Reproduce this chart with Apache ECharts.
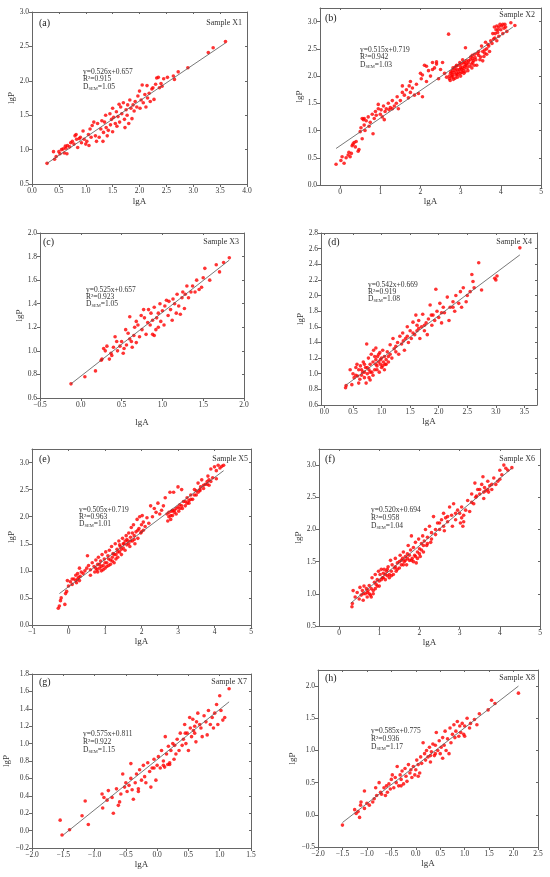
<!DOCTYPE html>
<html><head><meta charset="utf-8">
<script src="https://cdn.jsdelivr.net/npm/echarts@6/dist/echarts.min.js"></script>
<style>html,body{margin:0;padding:0;background:#fff}#c{width:550px;height:877px}</style>
</head><body><div id="c"></div><script>
// ---------------- DATA ----------------
const panelTags = ['(a)','(b)','(c)','(d)','(e)','(f)','(g)','(h)'];
const sampleNames = ['Sample X1','Sample X2','Sample X3','Sample X4','Sample X5','Sample X6','Sample X7','Sample X8'];
const eqLines = ['y=0.526x+0.657','y=0.515x+0.719','y=0.525x+0.657','y=0.542x+0.669','y=0.505x+0.719','y=0.520x+0.694','y=0.575x+0.811','y=0.585x+0.775'];
const r2Values = ['0.915','0.942','0.923','0.919','0.963','0.958','0.922','0.936'];
const dsemValues = ['1.05','1.03','1.05','1.08','1.01','1.04','1.15','1.17'];

const xRanges = [[0,4],[-0.5,5],[-0.5,2],[-0.06,3.72],[-1,5],[-0.5,5],[-2,1.5],[-2,2.5]];
const yRanges = [[0.5,3],[0,3.25],[0.6,2],[0.6,2.8],[0,3.25],[0.5,3.25],[-0.2,1.8],[-0.5,2.25]];
const xTicks = [
  [0,0.5,1,1.5,2,2.5,3,3.5,4],
  [0,1,2,3,4,5],
  [-0.5,0,0.5,1,1.5,2],
  [0,0.5,1,1.5,2,2.5,3,3.5],
  [-1,0,1,2,3,4,5],
  [0,1,2,3,4,5],
  [-2,-1.5,-1,-0.5,0,0.5,1,1.5],
  [-2,-1.5,-1,-0.5,0,0.5,1,1.5,2,2.5]
];
const yTicks = [
  [0.5,1,1.5,2,2.5,3],
  [0,0.5,1,1.5,2,2.5,3],
  [0.6,0.8,1,1.2,1.4,1.6,1.8,2],
  [0.6,0.8,1,1.2,1.4,1.6,1.8,2,2.2,2.4,2.6,2.8],
  [0,0.5,1,1.5,2,2.5,3],
  [0.5,1,1.5,2,2.5,3],
  [-0.2,0,0.2,0.4,0.6,0.8,1,1.2,1.4,1.6,1.8],
  [-0.5,0,0.5,1,1.5,2]
];
const xDecimals = [1,0,1,1,0,0,1,1];
const yDecimals = [1,1,1,1,1,1,1,1];

const fitA = [[0.28,0.80],[3.60,2.55]];
const fitB = [[-0.1,0.67],[4.3,2.90]];
const fitC = [[-0.12,0.72],[1.82,1.77]];
const fitD = [[0.37,0.85],[3.42,2.52]];
const fitE = [[-0.25,0.58],[4.25,2.85]];
const fitF = [[0.3,0.86],[4.3,2.95]];
const fitG = [[-1.5,-0.05],[1.15,1.48]];
const fitH = [[-1.5,-0.12],[2.1,2.0]];

const ptsA = [[0.28,0.80],[0.40,0.97],[0.42,0.86],[0.45,0.90],[0.50,0.97],[0.52,0.94],[0.55,1.00],[0.58,1.01],[0.60,0.95],[0.62,1.05],[0.63,1.02],[0.65,0.94],[0.66,1.06],[0.70,1.04],[0.72,1.10],[0.75,1.12],[0.78,1.08],[0.80,1.20],[0.82,1.22],[0.83,1.15],[0.85,1.03],[0.88,1.16],[0.90,1.18],[0.92,1.10],[0.95,1.27],[0.97,1.15],[1.00,1.08],[1.02,1.12],[1.05,1.22],[1.06,1.06],[1.08,1.30],[1.10,1.18],[1.12,1.35],[1.15,1.40],[1.18,1.20],[1.20,1.12],[1.22,1.38],[1.25,1.18],[1.28,1.30],[1.30,1.42],[1.32,1.12],[1.33,1.25],[1.35,1.40],[1.37,1.50],[1.38,1.32],[1.40,1.20],[1.42,1.28],[1.45,1.52],[1.46,1.36],[1.48,1.44],[1.50,1.60],[1.50,1.26],[1.52,1.47],[1.55,1.38],[1.57,1.55],[1.58,1.34],[1.60,1.48],[1.62,1.66],[1.63,1.40],[1.65,1.62],[1.67,1.52],[1.70,1.68],[1.72,1.44],[1.73,1.32],[1.75,1.58],[1.77,1.50],[1.78,1.65],[1.80,1.38],[1.82,1.72],[1.84,1.60],[1.86,1.45],[1.88,1.65],[1.90,1.56],[1.92,1.70],[1.95,1.62],[1.97,1.78],[2.00,1.85],[2.01,1.60],[2.03,1.72],[2.05,1.94],[2.07,1.68],[2.10,1.80],[2.12,1.62],[2.14,1.93],[2.15,1.75],[2.18,1.82],[2.20,1.70],[2.23,1.88],[2.25,1.90],[2.27,1.73],[2.30,1.95],[2.32,2.04],[2.35,2.05],[2.37,1.90],[2.40,1.96],[2.42,1.92],[2.45,2.03],[2.52,2.05],[2.63,2.07],[2.65,2.02],[2.72,2.13],[2.90,2.19],[3.28,2.41],[3.37,2.48],[3.60,2.57]];

const ptsB = [[-0.1,0.38],[0.02,0.45],[0.05,0.52],[0.10,0.40],[0.15,0.50],[0.2,0.55],[0.22,0.60],[0.25,0.52],[0.28,0.58],[0.3,0.72],[0.32,0.75],[0.35,0.78],[0.38,0.70],[0.4,0.80],[0.45,0.62],[0.47,0.65],[0.5,0.98],[0.52,1.05],[0.55,1.22],[0.55,0.85],[0.58,1.20],[0.6,1.10],[0.62,1.00],[0.65,1.18],[0.7,1.25],[0.72,1.08],[0.75,1.15],[0.8,1.30],[0.82,0.94],[0.85,1.22],[0.88,1.35],[0.9,1.28],[0.95,1.48],[1.0,1.30],[1.02,1.38],[1.05,1.25],[1.08,1.45],[1.1,1.20],[1.12,1.35],[1.15,1.40],[1.2,1.50],[1.22,1.38],[1.25,1.42],[1.3,1.55],[1.35,1.45],[1.4,1.50],[1.42,1.62],[1.45,1.40],[1.5,1.55],[1.55,1.70],[1.6,1.65],[1.65,1.75],[1.7,1.60],[1.72,1.82],[1.75,1.70],[1.8,1.78],[1.85,1.65],[1.9,1.85],[1.95,1.68],[2.0,2.05],[2.02,1.95],[2.05,1.62],[2.1,2.20],[2.15,1.90],[2.2,2.10],[2.25,2.00],[2.3,2.25],[2.35,2.15],[2.4,2.22],[2.45,1.95],[2.5,2.12],[2.55,2.25],[2.6,2.05],[2.65,1.98],[2.7,2.77],[2.72,1.95],[2.75,2.05],[2.78,1.98],[2.8,2.10],[2.82,1.94],[2.85,2.15],[2.88,2.02],[2.9,2.20],[2.92,1.98],[2.95,2.08],[2.98,2.25],[3.0,2.00],[3.02,2.12],[3.05,2.30],[3.08,2.05],[3.1,2.18],[3.12,2.52],[3.15,2.22],[3.18,2.10],[3.2,2.28],[3.25,2.35],[3.28,2.15],[3.3,2.25],[3.35,2.40],[3.38,2.30],[3.4,2.20],[3.45,2.45],[3.5,2.35],[3.52,2.55],[3.55,2.28],[3.6,2.48],[3.62,2.62],[3.65,2.40],[3.7,2.55],[3.72,2.45],[3.75,2.65],[3.78,2.60],[3.8,2.78],[3.85,2.70],[3.88,2.85],[3.9,2.65],[3.92,2.80],[3.95,2.90],[4.0,2.85],[4.02,2.92],[4.05,2.78],[4.08,2.88],[4.1,2.95],[4.15,2.82],[4.25,2.98],[4.35,2.93],[3.0,2.15],[2.9,2.05],[3.1,2.25],[2.8,2.0],[3.3,2.32],[3.45,2.38],[3.6,2.42],[3.95,2.73],
[2.72,2.00],[2.74,1.92],[2.76,2.08],[2.79,2.03],[2.81,2.15],[2.83,2.06],[2.86,1.96],[2.87,2.10],[2.89,2.18],[2.91,2.12],[2.93,2.03],[2.96,2.20],[2.97,2.12],[2.99,2.05],[3.01,2.22],[3.03,2.07],[3.04,2.16],[3.06,2.10],[3.07,2.24],[3.09,2.14],[3.11,2.08],[3.13,2.20],[3.14,2.28],[3.16,2.15],[3.19,2.24],[3.22,2.18],[3.24,2.30],[3.27,2.22],[3.29,2.38],[3.32,2.28],[3.34,2.20],[3.36,2.34],[3.42,2.42],[3.48,2.30],[3.55,2.45],[3.58,2.36],[3.65,2.50],[3.68,2.58],[3.82,2.68],[3.86,2.78],[3.9,2.92],[3.98,2.95],[4.05,2.95],[4.12,2.90],[3.93,2.85],[3.84,2.90],[1.55,1.82],[1.75,1.90],[2.05,2.02],[2.15,2.18],[2.3,2.12],[2.4,2.26],[1.3,1.40],[0.95,1.40],[0.6,1.22]];

const ptsC = [[-0.12,0.72],[0.05,0.78],[0.18,0.83],[0.25,0.92],[0.26,0.93],[0.28,1.02],[0.3,1.00],[0.32,1.04],[0.35,0.93],[0.37,0.98],[0.38,0.96],[0.4,1.03],[0.42,1.12],[0.44,1.08],[0.45,1.00],[0.48,1.04],[0.5,1.08],[0.52,0.98],[0.53,1.02],[0.55,1.18],[0.56,1.05],[0.58,1.15],[0.6,1.10],[0.6,1.29],[0.62,1.08],[0.63,1.03],[0.65,1.13],[0.66,1.20],[0.68,1.25],[0.68,1.07],[0.7,1.22],[0.72,1.12],[0.75,1.18],[0.77,1.35],[0.78,1.28],[0.8,1.14],[0.82,1.24],[0.83,1.35],[0.85,1.22],[0.86,1.32],[0.88,1.26],[0.9,1.13],[0.9,1.37],[0.92,1.18],[0.93,1.28],[0.95,1.32],[0.97,1.40],[0.98,1.25],[1.0,1.34],[1.02,1.22],[1.03,1.38],[1.05,1.43],[1.07,1.30],[1.08,1.42],[1.1,1.35],[1.12,1.26],[1.13,1.44],[1.15,1.40],[1.17,1.32],[1.18,1.48],[1.2,1.38],[1.22,1.31],[1.24,1.45],[1.25,1.50],[1.27,1.36],[1.28,1.48],[1.3,1.55],[1.32,1.45],[1.35,1.50],[1.37,1.55],[1.4,1.50],[1.42,1.60],[1.45,1.52],[1.48,1.54],[1.5,1.62],[1.52,1.70],[1.58,1.60],[1.66,1.73],[1.7,1.67],[1.75,1.75],[1.82,1.79],[0.95,1.20],[0.74,1.30],[0.88,1.14]];

const ptsD = [[0.37,0.82],[0.38,0.85],[0.45,1.05],[0.48,0.86],[0.5,1.00],[0.52,0.95],[0.55,1.08],[0.57,1.12],[0.58,0.97],[0.6,1.05],[0.62,0.93],[0.63,1.10],[0.65,0.98],[0.67,1.02],[0.68,1.15],[0.7,0.95],[0.72,1.08],[0.73,0.88],[0.74,1.38],[0.75,1.00],[0.77,1.20],[0.78,1.05],[0.8,0.92],[0.8,1.12],[0.82,1.25],[0.83,1.02],[0.85,1.15],[0.86,1.30],[0.88,1.05],[0.9,1.18],[0.9,1.33],[0.92,1.10],[0.93,1.22],[0.95,1.15],[0.96,1.02],[0.97,1.27],[0.98,1.12],[1.0,1.20],[1.0,1.08],[1.02,1.30],[1.03,1.15],[1.05,1.22],[1.06,1.12],[1.08,1.18],[1.1,1.28],[1.12,1.15],[1.15,1.37],[1.18,1.20],[1.2,1.45],[1.22,1.32],[1.25,1.28],[1.28,1.40],[1.3,1.25],[1.32,1.48],[1.35,1.38],[1.37,1.52],[1.4,1.30],[1.42,1.45],[1.45,1.60],[1.47,1.40],[1.5,1.55],[1.52,1.45],[1.55,1.66],[1.58,1.50],[1.6,1.75],[1.62,1.55],[1.65,1.68],[1.67,1.45],[1.7,1.60],[1.72,1.76],[1.75,1.55],[1.78,1.65],[1.8,1.50],[1.82,1.70],[1.85,1.88],[1.88,1.62],[1.9,1.75],[1.93,1.68],[1.95,2.08],[1.97,1.80],[2.0,1.72],[2.02,1.90],[2.05,1.65],[2.08,1.85],[2.1,1.78],[2.15,1.98],[2.18,1.68],[2.2,1.85],[2.25,1.92],[2.28,1.80],[2.3,2.00],[2.35,1.90],[2.38,2.05],[2.4,1.85],[2.43,2.10],[2.48,1.92],[2.5,2.00],[2.55,2.05],[2.58,2.27],[2.6,2.18],[2.62,2.10],[2.7,2.42],[2.75,2.07],[2.98,2.22],[3.0,2.20],[3.02,2.25],[3.42,2.61],[0.85,0.98],[0.95,1.25],[1.05,1.05],[0.7,1.12],[0.6,0.88],[1.12,1.22],[1.38,1.42],[1.65,1.58],[1.87,1.75],
[0.55,0.98],[0.65,1.05],[0.75,1.08],[0.8,1.02],[0.9,1.12],[0.92,1.05],[0.98,1.18],[1.02,1.10],[1.08,1.12],[0.88,1.22],[0.78,0.95],[0.7,1.02],[1.15,1.25],[1.25,1.35],[1.45,1.48],[1.55,1.52],[1.62,1.62],[1.75,1.62],[2.05,1.78],[2.25,1.85]];

const ptsE = [[-0.28,0.31],[-0.25,0.35],[-0.22,0.45],[-0.2,0.50],[-0.1,0.38],[-0.08,0.58],[-0.05,0.62],[0.0,0.72],[-0.03,0.82],[0.05,0.80],[0.1,0.75],[0.15,0.85],[0.2,0.92],[0.22,0.78],[0.25,0.95],[0.28,0.88],[0.3,1.05],[0.32,0.90],[0.35,0.98],[0.4,0.95],[0.45,1.00],[0.5,1.05],[0.52,1.28],[0.55,1.10],[0.6,1.02],[0.65,1.15],[0.7,1.08],[0.72,0.98],[0.75,1.20],[0.78,1.02],[0.8,1.12],[0.82,1.25],[0.85,1.05],[0.88,1.18],[0.9,1.00],[0.92,1.30],[0.95,1.10],[0.98,1.22],[1.0,1.05],[1.02,1.35],[1.05,1.15],[1.08,1.28],[1.1,1.10],[1.12,1.38],[1.15,1.20],[1.18,1.45],[1.2,1.25],[1.22,1.32],[1.25,1.15],[1.28,1.50],[1.3,1.30],[1.33,1.40],[1.35,1.25],[1.38,1.55],[1.4,1.35],[1.42,1.45],[1.45,1.30],[1.48,1.60],[1.5,1.42],[1.52,1.50],[1.55,1.38],[1.58,1.65],[1.6,1.48],[1.62,1.55],[1.65,1.70],[1.68,1.45],[1.7,1.62],[1.72,1.80],[1.75,1.55],[1.78,1.85],[1.8,1.65],[1.82,1.50],[1.85,1.72],[1.88,1.95],[1.9,1.60],[1.93,1.78],[1.95,2.00],[1.98,1.70],[2.0,1.85],[2.02,2.02],[2.05,1.75],[2.1,1.82],[2.15,1.98],[2.2,1.88],[2.25,2.20],[2.3,2.00],[2.35,2.15],[2.4,2.08],[2.45,2.25],[2.5,2.05],[2.55,2.12],[2.6,2.20],[2.65,2.35],[2.7,2.05],[2.72,1.92],[2.75,2.00],[2.78,2.45],[2.8,1.95],[2.82,2.10],[2.85,2.02],[2.88,2.45],[2.9,2.08],[2.95,2.15],[3.0,2.55],[3.02,2.10],[3.05,2.22],[3.1,2.50],[3.12,2.15],[3.15,2.28],[3.2,2.20],[3.25,2.35],[3.3,2.25],[3.35,2.40],[3.4,2.32],[3.45,2.50],[3.5,2.40],[3.55,2.62],[3.6,2.48],[3.62,2.55],[3.65,2.68],[3.7,2.52],[3.75,2.60],[3.8,2.65],[3.82,2.75],[3.85,2.58],[3.9,2.88],[3.95,2.72],[4.0,2.92],[4.05,2.85],[4.1,2.95],[4.15,2.90],[4.2,2.93],[4.25,2.95],[0.6,0.92],[0.3,0.82],[2.9,2.12],[3.0,2.18],[3.3,2.30],[3.6,2.50],[1.0,1.15],[1.4,1.48],[1.6,1.58],[4.05,2.70],
[0.75,1.05],[0.8,0.98],[0.85,1.12],[0.9,1.08],[0.95,1.02],[1.05,1.08],[1.1,1.22],[1.15,1.12],[1.2,1.18],[1.25,1.30],[1.3,1.22],[1.35,1.35],[1.45,1.40],[1.5,1.50],[1.55,1.55],[1.65,1.50],[1.7,1.55],[1.75,1.70],[1.8,1.58],[2.75,2.08],[2.8,2.02],[2.85,2.12],[2.95,2.05],[3.05,2.15],[3.1,2.2],[3.2,2.28],[3.25,2.25],[3.35,2.32],[3.45,2.40],[3.5,2.48],[3.55,2.45],[3.7,2.58],[3.8,2.60],[3.85,2.68],[3.9,2.65],[1.9,1.75],[2.0,1.72],[2.05,1.90],[0.1,0.85],[0.2,0.82],[0.25,0.85]];

const ptsF = [[0.32,0.80],[0.33,0.85],[0.35,1.05],[0.4,0.95],[0.45,1.02],[0.5,0.92],[0.52,1.10],[0.55,0.98],[0.58,1.05],[0.6,0.90],[0.62,1.12],[0.65,1.00],[0.68,1.08],[0.7,0.95],[0.72,1.05],[0.75,1.13],[0.78,0.98],[0.8,1.08],[0.82,1.25],[0.85,1.05],[0.88,1.18],[0.9,1.30],[0.92,1.15],[0.95,1.22],[0.98,1.35],[1.0,1.20],[1.02,1.30],[1.05,1.38],[1.08,1.25],[1.1,1.32],[1.12,1.38],[1.15,1.22],[1.18,1.35],[1.2,1.28],[1.22,1.42],[1.25,1.30],[1.28,1.52],[1.3,1.35],[1.32,1.45],[1.35,1.30],[1.38,1.40],[1.4,1.55],[1.42,1.35],[1.45,1.48],[1.5,1.40],[1.52,1.60],[1.55,1.45],[1.58,1.55],[1.6,1.65],[1.62,1.50],[1.65,1.58],[1.68,1.45],[1.7,1.62],[1.72,1.75],[1.75,1.52],[1.78,1.68],[1.8,1.90],[1.82,1.55],[1.85,1.72],[1.88,1.60],[1.9,1.80],[1.92,1.48],[1.95,1.65],[1.98,1.85],[2.0,1.70],[2.02,1.58],[2.05,1.78],[2.08,1.90],[2.1,1.65],[2.12,1.82],[2.15,2.00],[2.18,1.75],[2.2,1.88],[2.25,2.05],[2.28,1.80],[2.3,1.95],[2.35,2.20],[2.4,1.92],[2.45,2.10],[2.5,2.00],[2.55,2.15],[2.6,2.25],[2.62,1.98],[2.65,2.18],[2.7,2.12],[2.75,2.35],[2.8,2.22],[2.82,2.05],[2.85,2.40],[2.9,2.15],[2.95,2.30],[3.0,2.25],[3.02,2.10],[3.05,2.35],[3.08,2.05],[3.1,2.22],[3.15,2.30],[3.2,2.45],[3.25,2.28],[3.3,2.55],[3.35,2.40],[3.38,2.72],[3.4,2.50],[3.45,2.62],[3.5,2.55],[3.55,2.70],[3.58,2.82],[3.6,2.48],[3.62,2.65],[3.65,2.60],[3.7,2.75],[3.72,2.58],[3.75,2.68],[3.8,2.62],[3.85,2.80],[3.9,2.70],[3.95,2.75],[4.0,2.92],[4.05,2.85],[4.1,3.00],[4.15,2.95],[4.2,2.92],[4.3,2.96],[0.75,1.0],[1.0,1.12],[1.5,1.50],[1.7,1.55],[1.85,1.50],[2.0,1.62],[1.25,1.25],[3.42,2.52],[3.6,2.58],
[0.6,1.0],[0.7,1.02],[0.8,0.95],[0.85,1.0],[0.9,1.08],[0.95,1.12],[1.05,1.22],[1.1,1.25],[1.15,1.30],[1.2,1.38],[1.3,1.28],[1.4,1.42],[1.45,1.38],[1.55,1.52],[1.6,1.45],[1.65,1.52],[1.75,1.60],[1.8,1.52],[1.9,1.58],[1.95,1.55],[2.05,1.68],[2.1,1.75],[2.2,1.78],[2.3,1.85],[2.4,2.00],[2.5,2.10],[2.6,2.05],[2.7,2.20],[2.9,2.25],[3.05,2.18],[3.1,2.12],[3.3,2.42],[3.5,2.62],[3.7,2.62],[3.8,2.70],[4.0,2.78]];

const ptsG = [[-1.55,0.12],[-1.52,-0.05],[-1.4,0.01],[-1.2,0.17],[-1.15,0.34],[-1.1,0.07],[-0.88,0.42],[-0.87,0.26],[-0.85,0.38],[-0.8,0.35],[-0.78,0.46],[-0.72,0.38],[-0.7,0.20],[-0.65,0.48],[-0.62,0.29],[-0.6,0.33],[-0.58,0.42],[-0.55,0.65],[-0.52,0.50],[-0.5,0.55],[-0.48,0.45],[-0.45,0.52],[-0.42,0.60],[-0.42,0.77],[-0.4,0.47],[-0.38,0.36],[-0.35,0.55],[-0.33,0.65],[-0.3,0.48],[-0.28,0.70],[-0.25,0.58],[-0.22,0.75],[-0.2,0.62],[-0.18,0.55],[-0.15,0.78],[-0.12,0.68],[-0.1,0.50],[-0.08,0.72],[-0.05,0.82],[-0.02,0.58],[0.0,0.75],[0.02,0.85],[0.05,0.72],[0.07,0.92],[0.1,0.80],[0.12,0.73],[0.13,1.08],[0.15,0.88],[0.17,0.76],[0.18,0.97],[0.2,0.78],[0.22,0.92],[0.25,1.00],[0.27,0.82],[0.28,0.98],[0.3,0.88],[0.32,1.05],[0.35,0.92],[0.37,1.12],[0.4,0.98],[0.42,1.05],[0.44,1.22],[0.46,1.00],[0.48,1.12],[0.5,0.92],[0.52,1.30],[0.53,1.18],[0.55,1.08],[0.57,1.28],[0.58,1.15],[0.6,1.20],[0.62,1.02],[0.63,1.25],[0.65,1.35],[0.68,1.22],[0.7,1.18],[0.72,1.08],[0.75,1.32],[0.78,1.25],[0.8,1.10],[0.82,1.38],[0.85,1.22],[0.88,1.30],[0.9,1.18],[0.92,1.35],[0.95,1.45],[0.97,1.22],[1.0,1.55],[1.02,1.38],[1.05,1.27],[1.08,1.30],[1.15,1.63],[-0.3,0.45],[-0.05,0.72],[0.1,0.75],[0.2,0.76],[0.6,1.12],[0.45,1.12]];

const ptsH = [[-1.5,-0.16],[-1.25,0.08],[-1.22,0.02],[-1.18,0.05],[-1.15,-0.04],[-1.13,0.15],[-1.12,0.20],[-1.05,0.37],[-1.05,0.10],[-1.0,0.18],[-0.95,0.15],[-0.88,0.20],[-0.85,0.25],[-0.82,0.42],[-0.8,0.30],[-0.75,0.50],[-0.72,0.35],[-0.7,0.32],[-0.65,0.42],[-0.62,0.30],[-0.6,0.45],[-0.58,0.35],[-0.55,0.48],[-0.52,0.40],[-0.5,0.55],[-0.48,0.62],[-0.45,0.42],[-0.42,0.58],[-0.4,0.50],[-0.38,0.75],[-0.35,0.45],[-0.32,0.62],[-0.3,0.55],[-0.28,0.68],[-0.25,0.48],[-0.22,0.72],[-0.2,0.60],[-0.18,0.52],[-0.15,0.78],[-0.12,0.65],[-0.1,0.70],[-0.08,0.58],[-0.05,0.75],[-0.02,0.62],[0.0,0.70],[0.02,0.85],[0.05,0.78],[0.08,0.65],[0.1,0.90],[0.12,0.80],[0.15,1.12],[0.18,0.95],[0.2,0.85],[0.22,1.00],[0.25,0.90],[0.28,1.05],[0.3,0.82],[0.32,0.98],[0.35,1.10],[0.38,0.92],[0.4,1.08],[0.42,1.28],[0.45,1.00],[0.48,1.15],[0.5,0.95],[0.52,1.05],[0.55,1.20],[0.58,1.08],[0.6,1.30],[0.62,1.00],[0.65,1.18],[0.68,0.95],[0.7,1.35],[0.72,1.12],[0.75,1.25],[0.78,1.40],[0.8,1.20],[0.82,1.30],[0.85,1.45],[0.88,1.22],[0.9,1.38],[0.92,1.28],[0.95,1.42],[0.98,1.25],[1.0,1.38],[1.05,1.50],[1.1,1.35],[1.12,1.42],[1.2,1.48],[1.25,1.40],[1.3,1.57],[1.48,1.63],[1.55,1.78],[1.62,1.73],[2.1,1.89],[0.3,0.92],[0.4,0.95],[-0.3,0.45],[0.05,0.6],[0.55,0.88],[1.0,1.22]];

const allPts = [ptsA,ptsB,ptsC,ptsD,ptsE,ptsF,ptsG,ptsH];
const allFits = [fitA,fitB,fitC,fitD,fitE,fitF,fitG,fitH];

// ---------------- LAYOUT (pixels) ----------------
const grids = [
  {left:32,top:12,width:215,height:172},
  {left:320,top:8,width:221,height:177},
  {left:40,top:233,width:204,height:165},
  {left:321,top:233,width:216,height:172},
  {left:32,top:449,width:219,height:176},
  {left:319,top:449,width:221,height:177},
  {left:32,top:674,width:219,height:174},
  {left:318,top:670,width:220,height:177}
];
const tagPos = [[39,23],[325,18],[43,242],[328,242],[39,459],[325,459],[39,682],[325,678]];
const samplePos = [[242,23],[535,15],[239,242],[532,242],[248,459],[535,459],[247,682],[535,678]];
const eqPos = [[83,72,7.5],[360,50,7.5],[86,290,7],[368,285,7],[79,510,7],[371,510,8],[83,734,8],[371,731,8]];
const xNameGap = [13,12,20,12,10,11,11,12];
const yNameGap = [14,15,16,15,14,15,14,15];

const FONT = '"Liberation Serif", "DejaVu Serif", serif';
const AX = '#666';
const TXT = '#333';
function fmt(v,d){ const s=Math.abs(v).toFixed(d); return (v<0 && Math.abs(v)>1e-9 ? '\u2212' : '')+s; }

const option = {animation:false, backgroundColor:'#fff', grid:[], xAxis:[], yAxis:[], series:[], graphic:[]};

for (let i=0;i<8;i++){
  const g = grids[i];
  option.grid.push({left:g.left, top:g.top, width:g.width, height:g.height, show:false, containLabel:false});
  const xd = xDecimals[i], yd = yDecimals[i];
  option.xAxis.push({
    gridIndex:i, type:'value', position:'bottom', min:xRanges[i][0], max:xRanges[i][1],
    axisLine:{show:true,onZero:false,lineStyle:{color:AX,width:1}},
    axisTick:{show:true,inside:false,length:3,customValues:xTicks[i],lineStyle:{color:AX}},
    axisLabel:{show:true,customValues:xTicks[i],formatter:v=>fmt(v,xd),fontFamily:FONT,fontSize:7.5,color:TXT,margin:3,hideOverlap:false,showMinLabel:true,showMaxLabel:true},
    splitLine:{show:false},
    name:'lgA', nameLocation:'middle', nameGap:xNameGap[i], nameTextStyle:{fontFamily:FONT,fontSize:9,color:TXT}
  });
  option.xAxis.push({
    gridIndex:i, type:'value', position:'top', min:xRanges[i][0], max:xRanges[i][1],
    axisLine:{show:true,onZero:false,lineStyle:{color:AX,width:1}},
    axisTick:{show:true,inside:true,length:2,customValues:xTicks[i],lineStyle:{color:AX}},
    axisLabel:{show:false}, splitLine:{show:false}
  });
  option.yAxis.push({
    gridIndex:i, type:'value', position:'left', min:yRanges[i][0], max:yRanges[i][1],
    axisLine:{show:true,onZero:false,lineStyle:{color:AX,width:1}},
    axisTick:{show:true,inside:false,length:3,customValues:yTicks[i],lineStyle:{color:AX}},
    axisLabel:{show:true,customValues:yTicks[i],formatter:v=>fmt(v,yd),fontFamily:FONT,fontSize:7.5,color:TXT,margin:3,showMinLabel:true,showMaxLabel:true},
    splitLine:{show:false},
    name:'lgP', nameLocation:'middle', nameGap:yNameGap[i], nameRotate:90, nameTextStyle:{fontFamily:FONT,fontSize:9,color:TXT}
  });
  option.yAxis.push({
    gridIndex:i, type:'value', position:'right', min:yRanges[i][0], max:yRanges[i][1],
    axisLine:{show:true,onZero:false,lineStyle:{color:AX,width:1}},
    axisTick:{show:true,inside:true,length:2,customValues:yTicks[i],lineStyle:{color:AX}},
    axisLabel:{show:false}, splitLine:{show:false}
  });
  option.series.push({
    type:'scatter', xAxisIndex:2*i, yAxisIndex:2*i, data:allPts[i], symbol:'circle', symbolSize:3.6,
    itemStyle:{color:'#ff0000'}, silent:true, z:2
  });
  option.series.push({
    type:'line', xAxisIndex:2*i, yAxisIndex:2*i, data:allFits[i], showSymbol:false, symbol:'none',
    lineStyle:{color:'#555',width:0.8}, silent:true, z:3
  });
  option.graphic.push({type:'text', x:tagPos[i][0], y:tagPos[i][1], style:{text:panelTags[i], font:'10px '+FONT, fill:'#222', align:'left', verticalAlign:'middle'}});
  option.graphic.push({type:'text', x:samplePos[i][0], y:samplePos[i][1], style:{text:sampleNames[i], font:'8px '+FONT, fill:'#333', align:'right', verticalAlign:'middle'}});
  const ep = eqPos[i];
  option.graphic.push({type:'text', x:ep[0], y:ep[1], style:{text:eqLines[i], font:'7.5px '+FONT, fill:'#333', align:'left', verticalAlign:'middle'}});
  option.graphic.push({type:'text', x:ep[0], y:ep[1]+ep[2], style:{text:'R\u00b2='+r2Values[i], font:'7.5px '+FONT, fill:'#333', align:'left', verticalAlign:'middle'}});
  option.graphic.push({type:'text', x:ep[0], y:ep[1]+2*ep[2], style:{text:'D{s|SEM}='+dsemValues[i], font:'7.5px '+FONT, fill:'#333', align:'left', verticalAlign:'middle',
    rich:{s:{fontSize:4.5,fontFamily:FONT,fill:'#333',verticalAlign:'bottom',padding:[3,0,0,0]}}}});
}

const chart = echarts.init(document.getElementById('c'), null, {renderer:'canvas'});
chart.setOption(option);
</script></body></html>
